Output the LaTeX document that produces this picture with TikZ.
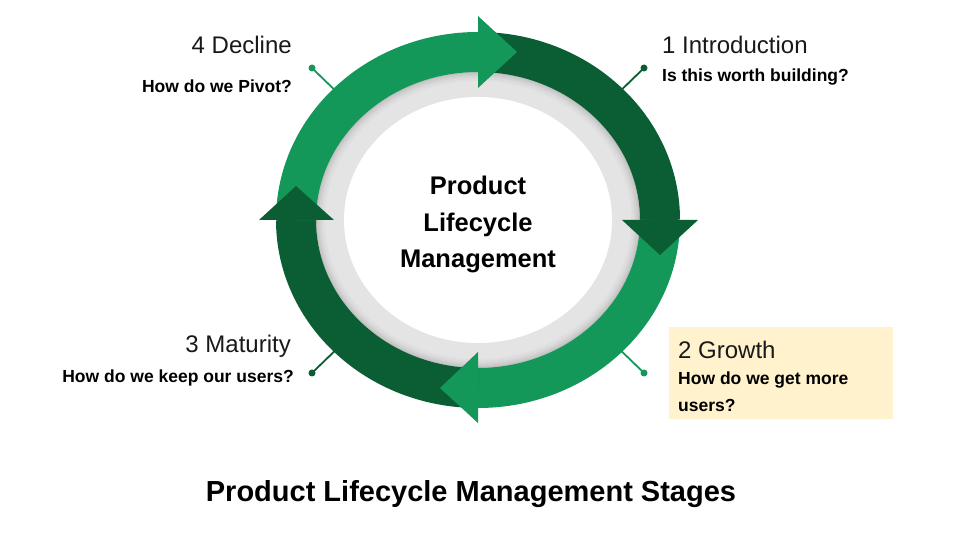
\documentclass[tikz,border=0pt]{standalone}
\usepackage{fontspec}
\setmainfont{Liberation Sans}
\definecolor{lgreen}{HTML}{14985A}
\definecolor{dgreen}{HTML}{0B5E34}
\definecolor{ringgray}{HTML}{E4E4E4}
\definecolor{boxyellow}{HTML}{FFF2CC}
\begin{document}
\begin{tikzpicture}[x=1pt,y=1pt,
  band/.style={line width=40pt},
  dotnode/.style={circle, inner sep=0pt, minimum size=7pt},
  conn/.style={line width=1.8pt},
  lbl/.style={font=\fontsize{24}{28}\selectfont, inner sep=0pt, text=black!90},
  qst/.style={font=\bfseries\fontsize{17.5}{21}\selectfont, inner sep=0pt},
  ctr/.style={font=\bfseries\fontsize{25.5}{30}\selectfont, inner sep=0pt, anchor=base},
]
\useasboundingbox (0,0) rectangle (960,540);
\fill[white] (0,0) rectangle (960,540);
\coordinate (C) at (478,320);
% inner gray ring and white centre
\fill[ringgray] (C) ellipse [x radius=163pt, y radius=149pt];
\foreach \i/\o in {0/0.16,1/0.11,2/0.07,3/0.04,4/0.02}
  \draw[black, opacity=\o, line width=2pt] (C) ellipse [x radius={162pt-2pt*\i}, y radius={148pt-2pt*\i}];
\fill[white] (C) ellipse [x radius=134pt, y radius=123pt];
% connectors with dots
\node[dotnode, fill=lgreen] (d4) at (312,472) {};
\node[dotnode, fill=dgreen] (d1) at (644,472) {};
\node[dotnode, fill=dgreen] (d3) at (312,167) {};
\node[dotnode, fill=lgreen] (d2) at (644,167) {};
\coordinate (e4) at (345,440);
\coordinate (e1) at (611,440);
\coordinate (e3) at (345,199);
\coordinate (e2) at (611,199);
\draw[conn, lgreen] (d4.center) -- (e4);
\draw[conn, dgreen] (d1.center) -- (e1);
\draw[conn, dgreen] (d3.center) -- (e3);
\draw[conn, lgreen] (d2.center) -- (e2);
% ring segments
\draw[band, dgreen] (C) ++(90:182pt and 168pt) arc[start angle=90, end angle=0, x radius=182pt, y radius=168pt];
\draw[band, lgreen] (C) ++(0:182pt and 168pt) arc[start angle=0, end angle=-90, x radius=182pt, y radius=168pt];
\draw[band, dgreen] (C) ++(-90:182pt and 168pt) arc[start angle=-90, end angle=-180, x radius=182pt, y radius=168pt];
\draw[band, lgreen] (C) ++(180:182pt and 168pt) arc[start angle=180, end angle=90, x radius=182pt, y radius=168pt];
% arrowheads
\fill[lgreen] (478,452) -- (478,524) -- (517,488) -- cycle;
\fill[dgreen] (622,320) -- (698,320) -- (660,285) -- cycle;
\fill[lgreen] (478,117) -- (478,188) -- (440,152) -- cycle;
\fill[dgreen] (259,320) -- (334,320) -- (296,354) -- cycle;
% labels
\node[lbl, anchor=base east] (t4) at (292,486) {4 Decline};
\node[qst, anchor=base east] (q4) at (292,447) {How do we Pivot?};
\node[lbl, anchor=base west] (t1) at (662,486) {1 Introduction};
\node[qst, anchor=base west] (q1) at (662,458) {Is this worth building?};
\node[lbl, anchor=base east] (t3) at (291,187) {3 Maturity};
\node[qst, anchor=base east] (q3) at (294,157) {How do we keep our users?};
\fill[boxyellow] (669,213) rectangle (893,121);
\node[lbl, anchor=base west] (t2) at (678,181) {2 Growth};
\node[qst, anchor=base west] (q2a) at (678,155) {How do we get more};
\node[qst, anchor=base west] (q2b) at (678,128) {users?};
% centre text
\node[ctr] (c1) at (478,345) {Product};
\node[ctr] (c2) at (478,308) {Lifecycle};
\node[ctr] (c3) at (478,272) {Management};
% title
\node[font=\bfseries\fontsize{29}{34}\selectfont, inner sep=0pt, anchor=base] (title) at (471,38) {Product Lifecycle Management Stages};
\end{tikzpicture}
\end{document}
